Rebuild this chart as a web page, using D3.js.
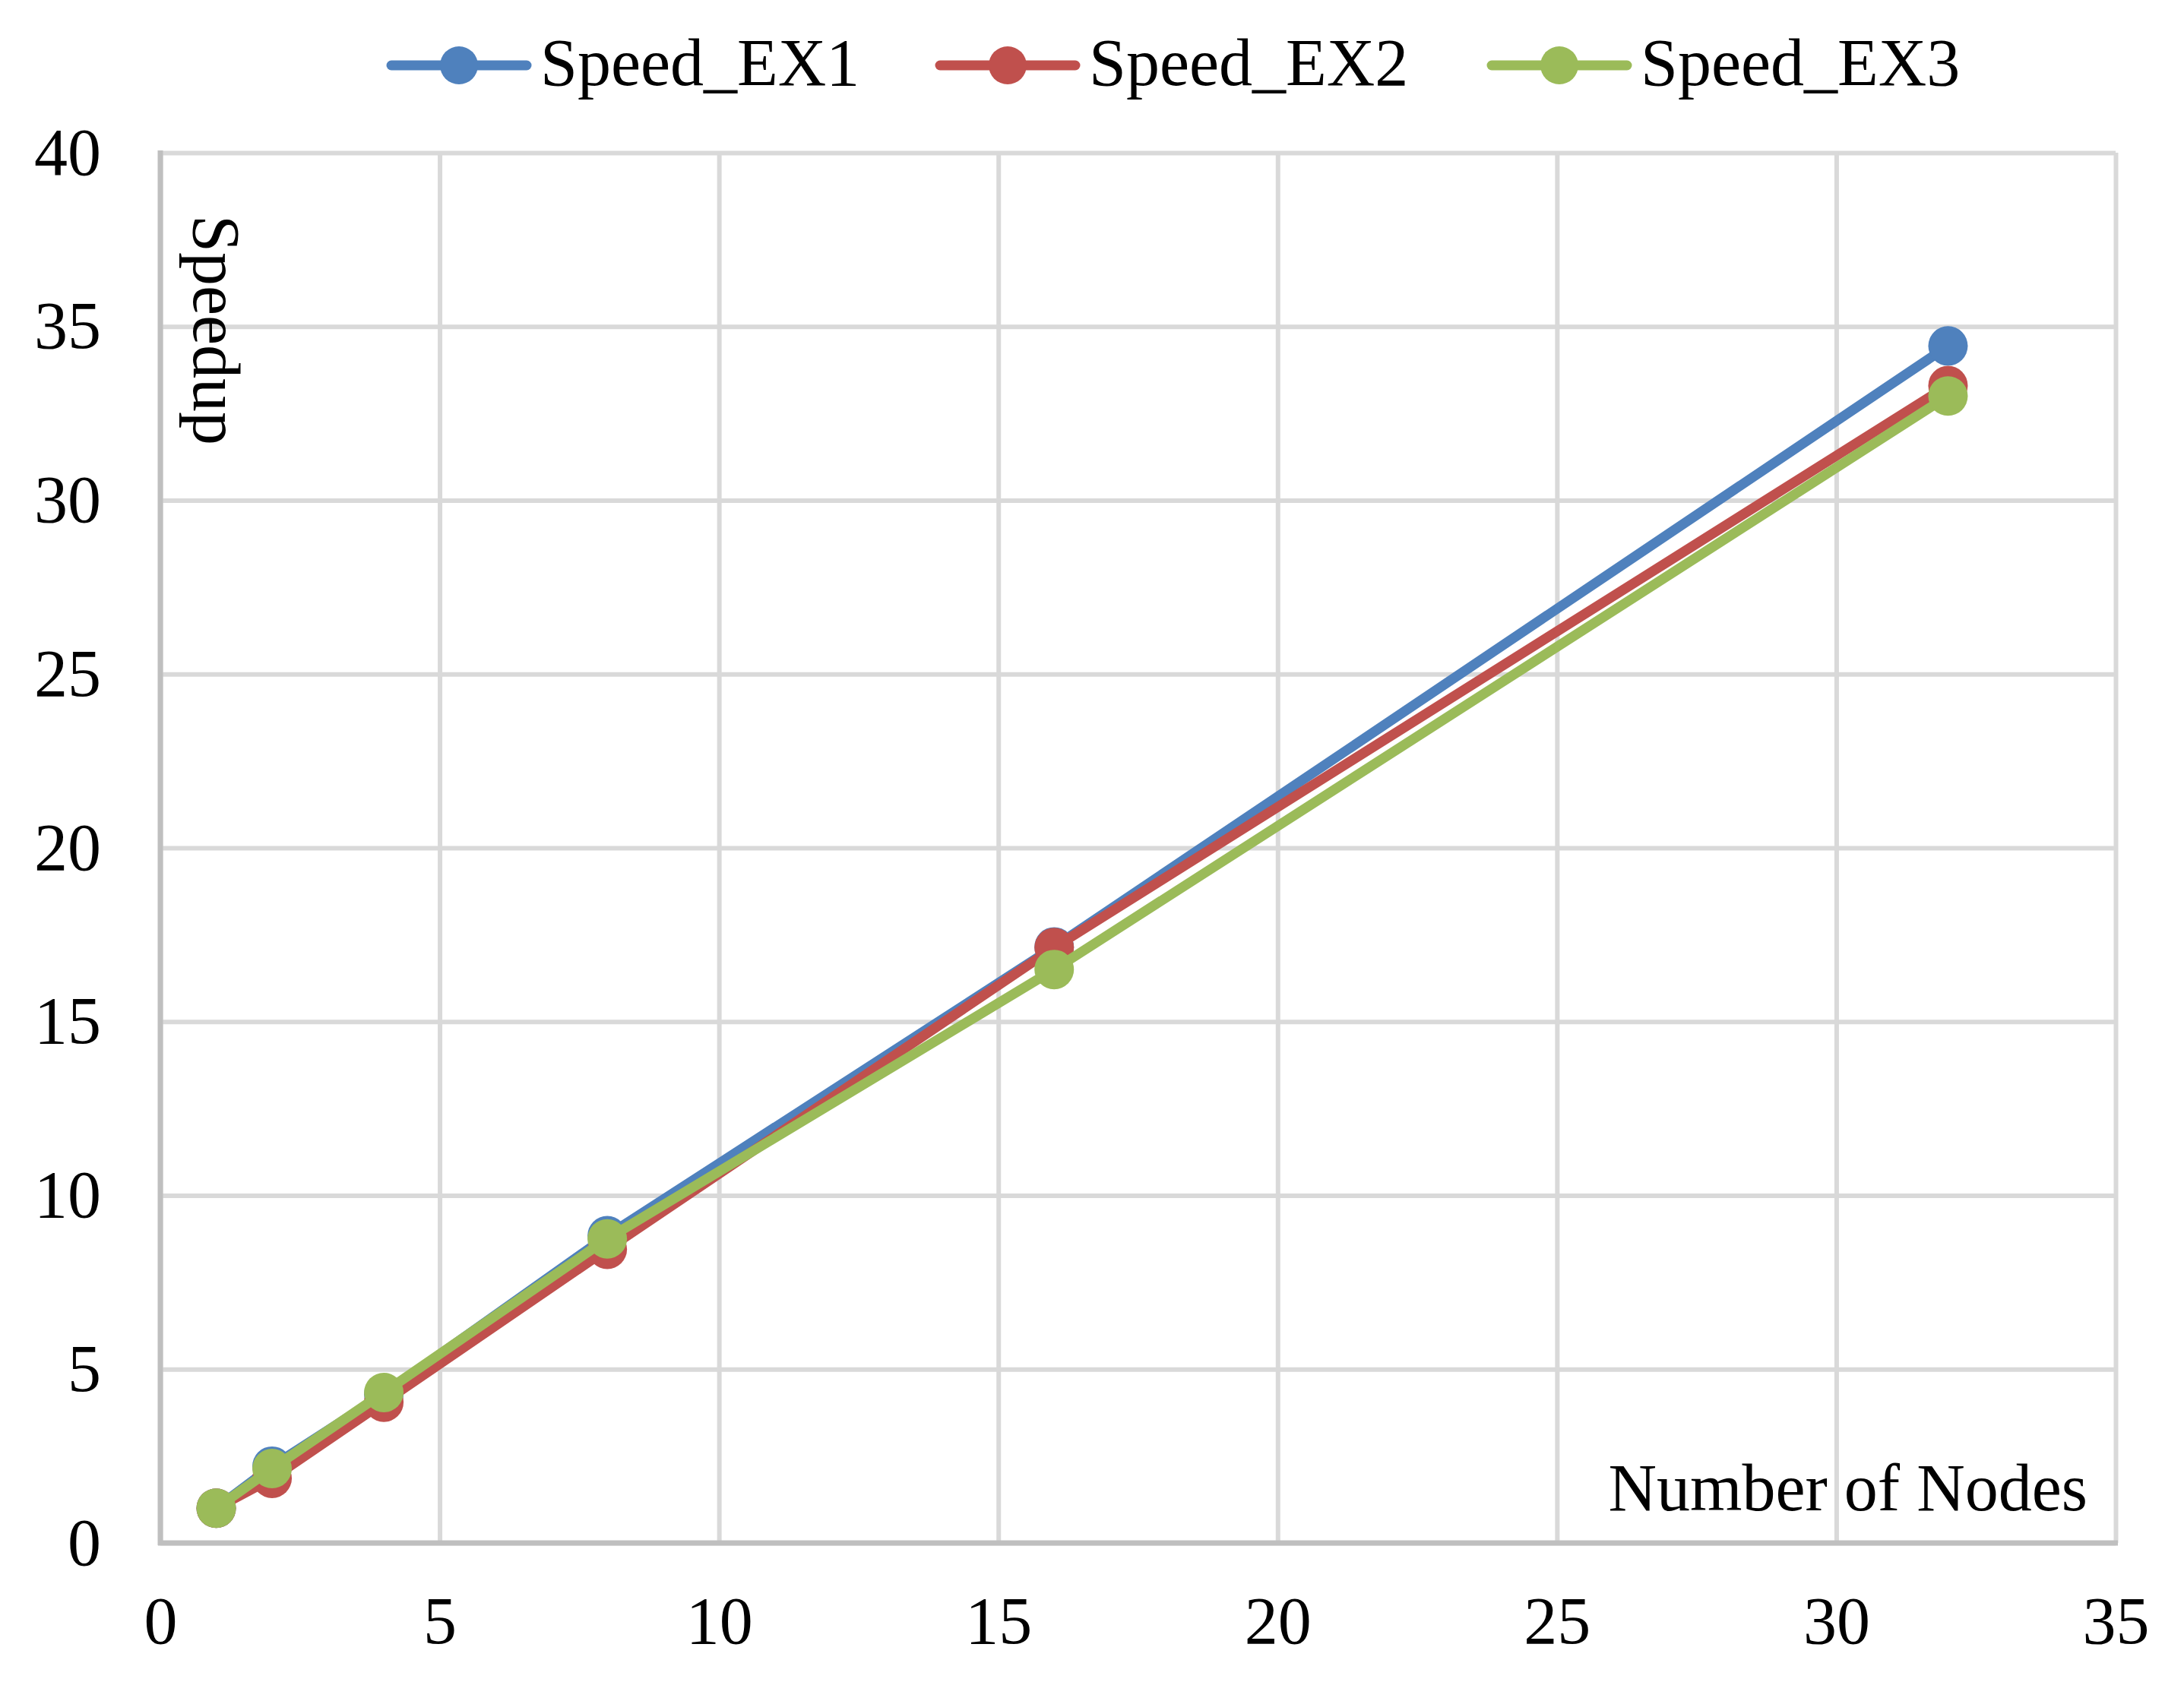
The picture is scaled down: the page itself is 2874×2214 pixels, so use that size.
<!DOCTYPE html>
<html>
<head>
<meta charset="utf-8">
<script src="https://cdn.jsdelivr.net/npm/d3@7"></script>
<style>
  body { margin: 0; background: #fff; }
  text { font-family: "Liberation Serif", "Times New Roman", serif; fill: #000; }
</style>
</head>
<body>
<div id="chart"></div>
<script>
// data
const nodes = [1, 2, 4, 8, 16, 32];
const speedEX1 = [1, 2.21, 4.28, 8.84, 17.15, 34.44];
const speedEX2 = [1, 1.86, 4.05, 8.45, 17.13, 33.3];
const speedEX3 = [1, 2.14, 4.33, 8.75, 16.5, 33.0];
const seriesNames = ["Speed_EX1", "Speed_EX2", "Speed_EX3"];
const xTicks = [0, 5, 10, 15, 20, 25, 30, 35];
const yTicks = [0, 5, 10, 15, 20, 25, 30, 35, 40];

const colors = ["#4f81bd", "#c0504d", "#9bbb59"];
const W = 2874, H = 2214;
const m = {top: 201, right: 90, bottom: 183, left: 211};
const fontSize = 88;

const svg = d3.select("#chart").append("svg")
    .attr("width", W).attr("height", H)
    .attr("viewBox", [0, 0, W, H]);

const x = d3.scaleLinear().domain([0, 35]).range([m.left, W - m.right]);
const y = d3.scaleLinear().domain([0, 40]).range([H - m.bottom, m.top]);
const plotW = x.range()[1] - x.range()[0];
const plotH = y.range()[0] - y.range()[1];

// gridlines + tick labels
const yAxis = svg.append("g")
    .attr("transform", `translate(${m.left},0)`)
    .call(d3.axisLeft(y).tickValues(yTicks).tickSize(-plotW).tickPadding(78));
const xAxis = svg.append("g")
    .attr("transform", `translate(0,${y(0)})`)
    .call(d3.axisBottom(x).tickValues(xTicks).tickSize(-plotH).tickPadding(70));

[xAxis, yAxis].forEach(a => {
    a.select(".domain").remove();
    a.selectAll(".tick line").attr("stroke", "#d9d9d9").attr("stroke-width", 6);
    a.selectAll(".tick text")
        .attr("font-size", fontSize)
        .attr("font-family", "Liberation Serif, Times New Roman, serif")
        .attr("fill", "#000");
});

// axis lines (darker grey)
svg.append("line")
    .attr("x1", x(0)).attr("x2", x(0))
    .attr("y1", y(40) - 3).attr("y2", y(0) + 3)
    .attr("stroke", "#bfbfbf").attr("stroke-width", 7);
svg.append("line")
    .attr("x1", x(0) - 3).attr("x2", x(35) + 3)
    .attr("y1", y(0)).attr("y2", y(0))
    .attr("stroke", "#bfbfbf").attr("stroke-width", 7);

// axis titles inside plot
svg.append("text")
    .attr("transform", `translate(255,283) rotate(90)`)
    .attr("font-size", fontSize)
    .text("Speedup");
svg.append("text")
    .attr("x", 2747).attr("y", 1988)
    .attr("text-anchor", "end")
    .attr("font-size", fontSize)
    .text("Number of Nodes");

// series
const allSeries = [speedEX1, speedEX2, speedEX3];
const line = d3.line().x(d => x(d[0])).y(d => y(d[1]));

allSeries.forEach((vals, i) => {
    const pts = nodes.map((n, j) => [n, vals[j]]);
    const g = svg.append("g");
    g.append("path")
        .datum(pts)
        .attr("d", line)
        .attr("fill", "none")
        .attr("stroke", colors[i])
        .attr("stroke-width", 13)
        .attr("stroke-linejoin", "round")
        .attr("stroke-linecap", "round");
    g.selectAll("circle")
        .data(pts)
        .join("circle")
        .attr("cx", d => x(d[0]))
        .attr("cy", d => y(d[1]))
        .attr("r", 26)
        .attr("fill", colors[i]);
});

// legend
const legendX = [515, 1237, 1963];
const legendY = 86;
seriesNames.forEach((name, i) => {
    const g = svg.append("g").attr("transform", `translate(${legendX[i]},${legendY})`);
    g.append("line")
        .attr("x1", 0).attr("x2", 178)
        .attr("stroke", colors[i]).attr("stroke-width", 13)
        .attr("stroke-linecap", "round");
    g.append("circle").attr("cx", 89).attr("r", 25).attr("fill", colors[i]);
    g.append("text")
        .attr("x", 196).attr("y", 26)
        .attr("font-size", fontSize)
        .text(name);
});
</script>
</body>
</html>
